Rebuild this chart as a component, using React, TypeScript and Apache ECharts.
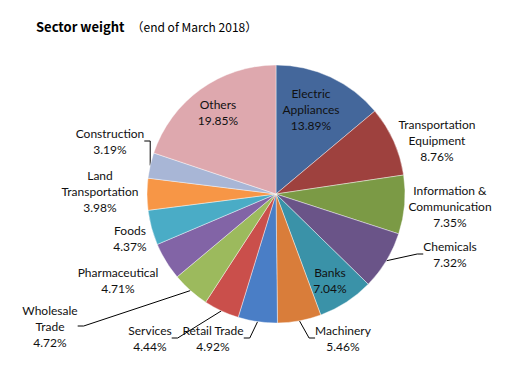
import React, { useEffect, useRef } from "react";
import * as echarts from "echarts";

const sectors = [
  "Electric Appliances",
  "Transportation Equipment",
  "Information & Communication",
  "Chemicals",
  "Banks",
  "Machinery",
  "Retail Trade",
  "Services",
  "Wholesale Trade",
  "Pharmaceutical",
  "Foods",
  "Land Transportation",
  "Construction",
  "Others",
];
const weights = [13.89, 8.76, 7.35, 7.32, 7.04, 5.46, 4.92, 4.44, 4.72, 4.71, 4.37, 3.98, 3.19, 19.85];
const labelTexts = [
  "Electric\nAppliances",
  "Transportation\nEquipment",
  "Information &\nCommunication",
  "Chemicals",
  "Banks",
  "Machinery",
  "Retail Trade",
  "Services",
  "Wholesale\nTrade",
  "Pharmaceutical",
  "Foods",
  "Land\nTransportation",
  "Construction",
  "Others",
];

// styling / layout
const colors = [
  "#44679B", "#9E413E", "#7B9A45", "#6A5488", "#3A92A8", "#D97D3A",
  "#4A7EC6", "#CA4F4B", "#9CBA5D", "#8264A6", "#4AACC6", "#F79646",
  "#A8B6D6", "#DEA8AE",
];
const labelPos: [number, number][] = [
  [311, 109], [437, 140], [450, 206], [450, 254], [330, 280], [343, 338],
  [213, 338], [150, 338], [50, 326], [118, 280], [130, 238], [100, 191],
  [110, 141], [218, 112],
];
const showLine = [false, false, false, true, false, true, true, true, true, false, false, false, true, false];

export default function App() {
  const ref = useRef<HTMLDivElement>(null);
  useEffect(() => {
    if (!ref.current) return;
    const chart = echarts.init(ref.current, null, { renderer: "svg" });
    const labelFont = "Lato, 'Open Sans', sans-serif";
    chart.setOption({
      animation: false,
      backgroundColor: "#fff",
      title: {
        text: "{b|Sector weight} {n|（end of March 2018）}",
        left: 31,
        top: 12,
        textStyle: {
          rich: {
            b: { fontFamily: "'Noto Sans CJK JP', sans-serif", fontWeight: "bold", fontSize: 13, color: "#000" },
            n: { fontFamily: "'Noto Sans CJK JP', sans-serif", fontWeight: "normal", fontSize: 12, color: "#000", padding: [0, 0, 0, 2] },
          },
        },
      },
      series: [
        {
          type: "pie",
          center: [276, 194],
          radius: [0, 129],
          startAngle: 90,
          clockwise: true,
          avoidLabelOverlap: false,
          itemStyle: { borderColor: "rgba(255,255,255,0.7)", borderWidth: 0.6 },
          label: {
            show: true,
            position: "outside",
            fontFamily: labelFont,
            fontSize: 12,
            lineHeight: 16,
            color: "#111",
            align: "center",
            formatter: (p: any) => `${labelTexts[p.dataIndex]}\n${weights[p.dataIndex].toFixed(2)}%`,
          },
          labelLine: {
            show: true,
            length: 8,
            length2: 6,
            smooth: false,
            lineStyle: { color: "#000", width: 1 },
          },
          labelLayout: (p: any) => {
            const [x, y] = labelPos[p.dataIndex];
            return { x, y, align: "center", verticalAlign: "middle" };
          },
          data: sectors.map((name, i) => ({
            name,
            value: weights[i],
            itemStyle: { color: colors[i] },
            labelLine: { show: showLine[i] },
          })),
        },
      ],
    });
    return () => chart.dispose();
  }, []);
  return (
    <div
      ref={ref}
      style={{ position: "fixed", left: 0, top: 0, width: 529, height: 376 }}
    />
  );
}
